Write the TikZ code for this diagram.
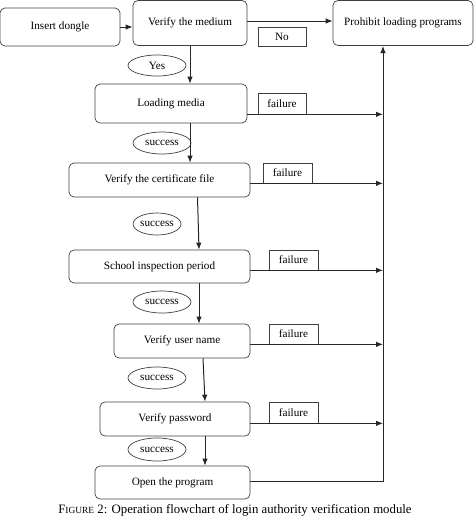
\documentclass[tikz,border=0pt]{standalone}
\usepackage{fontspec}
\setmainfont{Liberation Serif}
\usepackage{tikz}
\usetikzlibrary{arrows.meta,shapes.geometric,calc}

\begin{document}
\begin{tikzpicture}[x=1pt, y=-1pt,
    stepbox/.style={draw=black!75, line width=0.7pt, rounded corners=5pt, align=center, inner sep=0pt, font=\fontsize{11.2}{13}\selectfont},
    tagbox/.style={draw=black!75, line width=0.7pt, inner sep=0pt, minimum height=20pt, minimum width=49pt, font=\fontsize{11.2}{13}\selectfont},
    tagoval/.style={ellipse, draw=black!75, line width=0.7pt, inner sep=0pt, minimum height=22pt, minimum width=58pt, font=\fontsize{11.2}{13}\selectfont},
    flow/.style={-{Latex[length=7pt,width=5.5pt]}, line width=1pt, black!85}]
    \useasboundingbox (0,0) rectangle (474,517);

    % Main steps
    \node[stepbox, minimum width=120pt, minimum height=38pt] (ins) at (60,27) {Insert dongle};
    \node[stepbox, minimum width=114pt, minimum height=45pt] (vmed) at (190,23) {Verify the medium};
    \node[stepbox, minimum width=140pt, minimum height=45pt] (proh) at (403,23) {Prohibit loading programs};
    \node[stepbox, minimum width=152pt, minimum height=39pt] (load) at (171,103.5) {Loading media};
    \node[stepbox, minimum width=181pt, minimum height=34pt] (cert) at (159.5,180) {Verify the certificate file};
    \node[stepbox, minimum width=181pt, minimum height=33pt] (school) at (159.5,266.5) {School inspection period};
    \node[stepbox, minimum width=136pt, minimum height=34pt] (user) at (182,341) {Verify user name};
    \node[stepbox, minimum width=150pt, minimum height=34pt] (pass) at (175,419) {Verify password};
    \node[stepbox, minimum width=155pt, minimum height=33pt] (open) at (172.5,482.5) {Open the program};

    % Branch tags
    \node[tagbox, minimum width=48pt, minimum height=19pt] (no) at (282,36.5) {No};
    \node[tagbox, minimum width=48pt, minimum height=21pt] (f1) at (282,103.5) {failure};
    \node[tagbox] (f2) at (287.5,173) {failure};
    \node[tagbox] (f3) at (293.5,260) {failure};
    \node[tagbox] (f4) at (293.5,334) {failure};
    \node[tagbox, minimum height=21pt] (f5) at (293.5,412.5) {failure};

    \node[tagoval, minimum height=21pt] (yes) at (157,65.5) {Yes};
    \node[tagoval] (s1) at (162,143) {success};
    \node[tagoval, minimum width=48pt] (s2) at (157,224) {success};
    \node[tagoval] (s3) at (162,302) {success};
    \node[tagoval] (s4) at (157,378) {success};
    \node[tagoval, minimum height=23pt] (s5) at (157,449.5) {success};

    % Trunk to the prohibit box
    \coordinate (top) at (383,46);

    % Main flow
    \draw[flow] (ins.east) -- (ins.east -| vmed.west);
    \draw[flow] ([yshift=2pt]vmed.east) -- ([yshift=2pt]proh.west);
    \draw[flow] (vmed.south) -- (vmed.south |- load.north);
    \draw[flow] (load.south -| vmed.south) -- (cert.north -| vmed.south);
    \draw[flow] ([xshift=38pt]cert.south) -- ([xshift=39.5pt]school.north);
    \draw[flow] ([xshift=39.5pt]school.south) -- ([xshift=17pt]user.north);
    \draw[flow] ([xshift=21pt]user.south) -- ([xshift=30pt]pass.north);
    \draw[flow] ([xshift=30pt]pass.south) -- ([xshift=32.5pt]open.north);

    % Failure branches
    \draw[flow] (load.east |- f1.south) -- (f1.south -| top);
    \draw[flow] (cert.east |- f2.south) -- (f2.south -| top);
    \draw[flow] (school.east |- f3.south) -- (f3.south -| top);
    \draw[flow] (user.east |- f4.south) -- (f4.south -| top);
    \draw[flow] (pass.east |- f5.south) -- (f5.south -| top);
    \draw[flow] ([yshift=1.5pt]open.east) -| (top);

    % Caption
    \node[anchor=base, font=\fontsize{12.8}{14}\selectfont] (cap) at (235,513) {F{\fontsize{9.4}{11}\selectfont IGURE} 2: Operation flowchart of login authority verification module};
\end{tikzpicture}
\end{document}
